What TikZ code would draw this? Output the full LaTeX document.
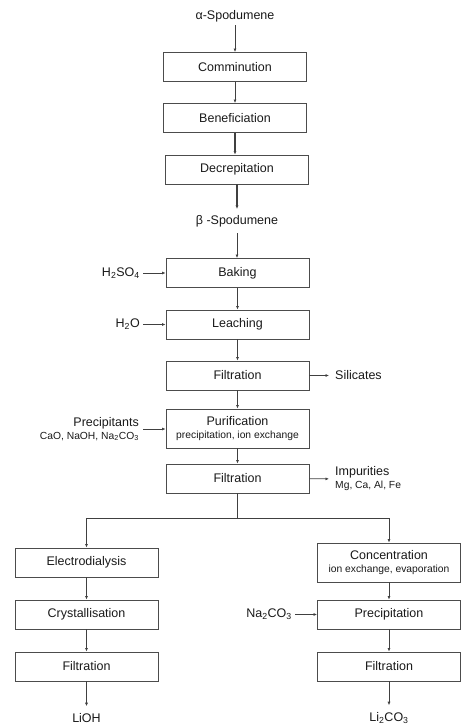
\documentclass[tikz,border=0pt]{standalone}
\usepackage{fontspec}
\setmainfont{Liberation Sans}
\usetikzlibrary{arrows.meta}
\begin{document}
\begin{tikzpicture}[x=1pt,y=-1pt,
  every node/.style={text=black!90,font=\fontsize{12.5}{14}\selectfont},
  procbox/.style={draw=black!70,line width=0.9pt,minimum width=143pt,minimum height=29pt,inner sep=1pt,align=center},
  tallbox/.style={procbox,minimum height=39pt},
  lbl/.style={inner sep=3pt},
  arr/.style={draw=black!75,line width=0.8pt,-{Latex[length=3.5pt,width=3pt]}},
  thickarr/.style={arr,line width=1.2pt},
  ln/.style={draw=black!75,line width=0.8pt}
]
\useasboundingbox (0,0) rectangle (474,724);
% main column
\node[lbl] (alpha) at (235,16) {α-Spodumene};
\node[procbox] (comm) at (235,67) {Comminution};
\node[procbox] (benef) at (235,118) {Beneficiation};
\node[procbox] (decrep) at (237,169.5) {Decrepitation};
\node[lbl,inner sep=6pt] (beta) at (237,221) {β -Spodumene};
\node[procbox] (bake) at (237.5,273) {Baking};
\node[procbox] (leach) at (237.5,324.5) {Leaching};
\node[procbox] (filt1) at (237.5,375.5) {Filtration};
\node[tallbox] (purif) at (237.5,428.5) {Purification\\[-1pt]{\fontsize{10.3}{12}\selectfont precipitation, ion exchange}};
\node[procbox] (filt2) at (237.5,478.5) {Filtration};
% side inputs/outputs
\node[lbl,anchor=east] (h2so4) at (143,273) {H\textsubscript{2}SO\textsubscript{4}};
\node[lbl,anchor=east] (h2o) at (143,324.5) {H\textsubscript{2}O};
\node[lbl,anchor=west,inner sep=6pt] (silic) at (329,375.5) {Silicates};
\node[lbl,anchor=east,align=right,inner sep=4pt] (precs) at (143,429) {Precipitants\\[-1pt]{\fontsize{10.3}{12}\selectfont CaO, NaOH, Na\textsubscript{2}CO\textsubscript{3}}};
\node[lbl,anchor=west,align=left,inner sep=6pt] (impur) at (329,479) {Impurities\\[-1pt]{\fontsize{10.3}{12}\selectfont Mg, Ca, Al, Fe}};
% branches
\coordinate (split) at (237.5,518);
\coordinate (splitL) at (86.5,518);
\coordinate (splitR) at (389,518);
\node[procbox] (elec) at (86.5,562.5) {Electrodialysis};
\node[procbox] (cryst) at (86.5,614.5) {Crystallisation};
\node[procbox] (filtL) at (86.5,666.5) {Filtration};
\node[lbl,inner sep=7pt] (lioh) at (86.5,718) {LiOH};
\node[tallbox] (conc) at (389,562.5) {Concentration\\[-1pt]{\fontsize{10.3}{12}\selectfont ion exchange, evaporation}};
\node[procbox] (precip) at (389,614.5) {Precipitation};
\node[procbox] (filtR) at (389,666.5) {Filtration};
\node[lbl,inner sep=7pt] (li2co3) at (389,718) {Li\textsubscript{2}CO\textsubscript{3}};
\node[lbl,anchor=east] (na2co3) at (295,614.5) {Na\textsubscript{2}CO\textsubscript{3}};
% connectors
\draw[arr] (alpha) -- (comm);
\draw[arr] (comm) -- (benef);
\draw[thickarr] (benef) -- (benef.south |- decrep.north);
\draw[thickarr] (decrep) -- (beta);
\draw[arr] (beta) -- (beta.south |- bake.north);
\draw[arr] (bake) -- (leach);
\draw[thickarr] (leach) -- (filt1);
\draw[arr] (filt1) -- (purif);
\draw[arr] (purif) -- (filt2);
\draw[arr] (h2so4) -- (bake);
\draw[arr] (h2o) -- (leach);
\draw[arr] (filt1) -- (silic);
\draw[arr] (precs.east) -- (purif.west |- precs.east);
\draw[arr] (filt2) -- (impur);
\draw[ln] (filt2.south) -- (split);
\draw[ln] (splitL) -- (splitR);
\draw[arr] (splitL) -- (elec);
\draw[arr] (splitR) -- (conc);
\draw[arr] (elec) -- (cryst);
\draw[arr] (cryst) -- (filtL);
\draw[arr] (filtL) -- (lioh);
\draw[arr] (conc) -- (precip);
\draw[arr] (precip) -- (filtR);
\draw[arr] (filtR) -- (li2co3);
\draw[arr] (na2co3) -- (precip);
\end{tikzpicture}
\end{document}
